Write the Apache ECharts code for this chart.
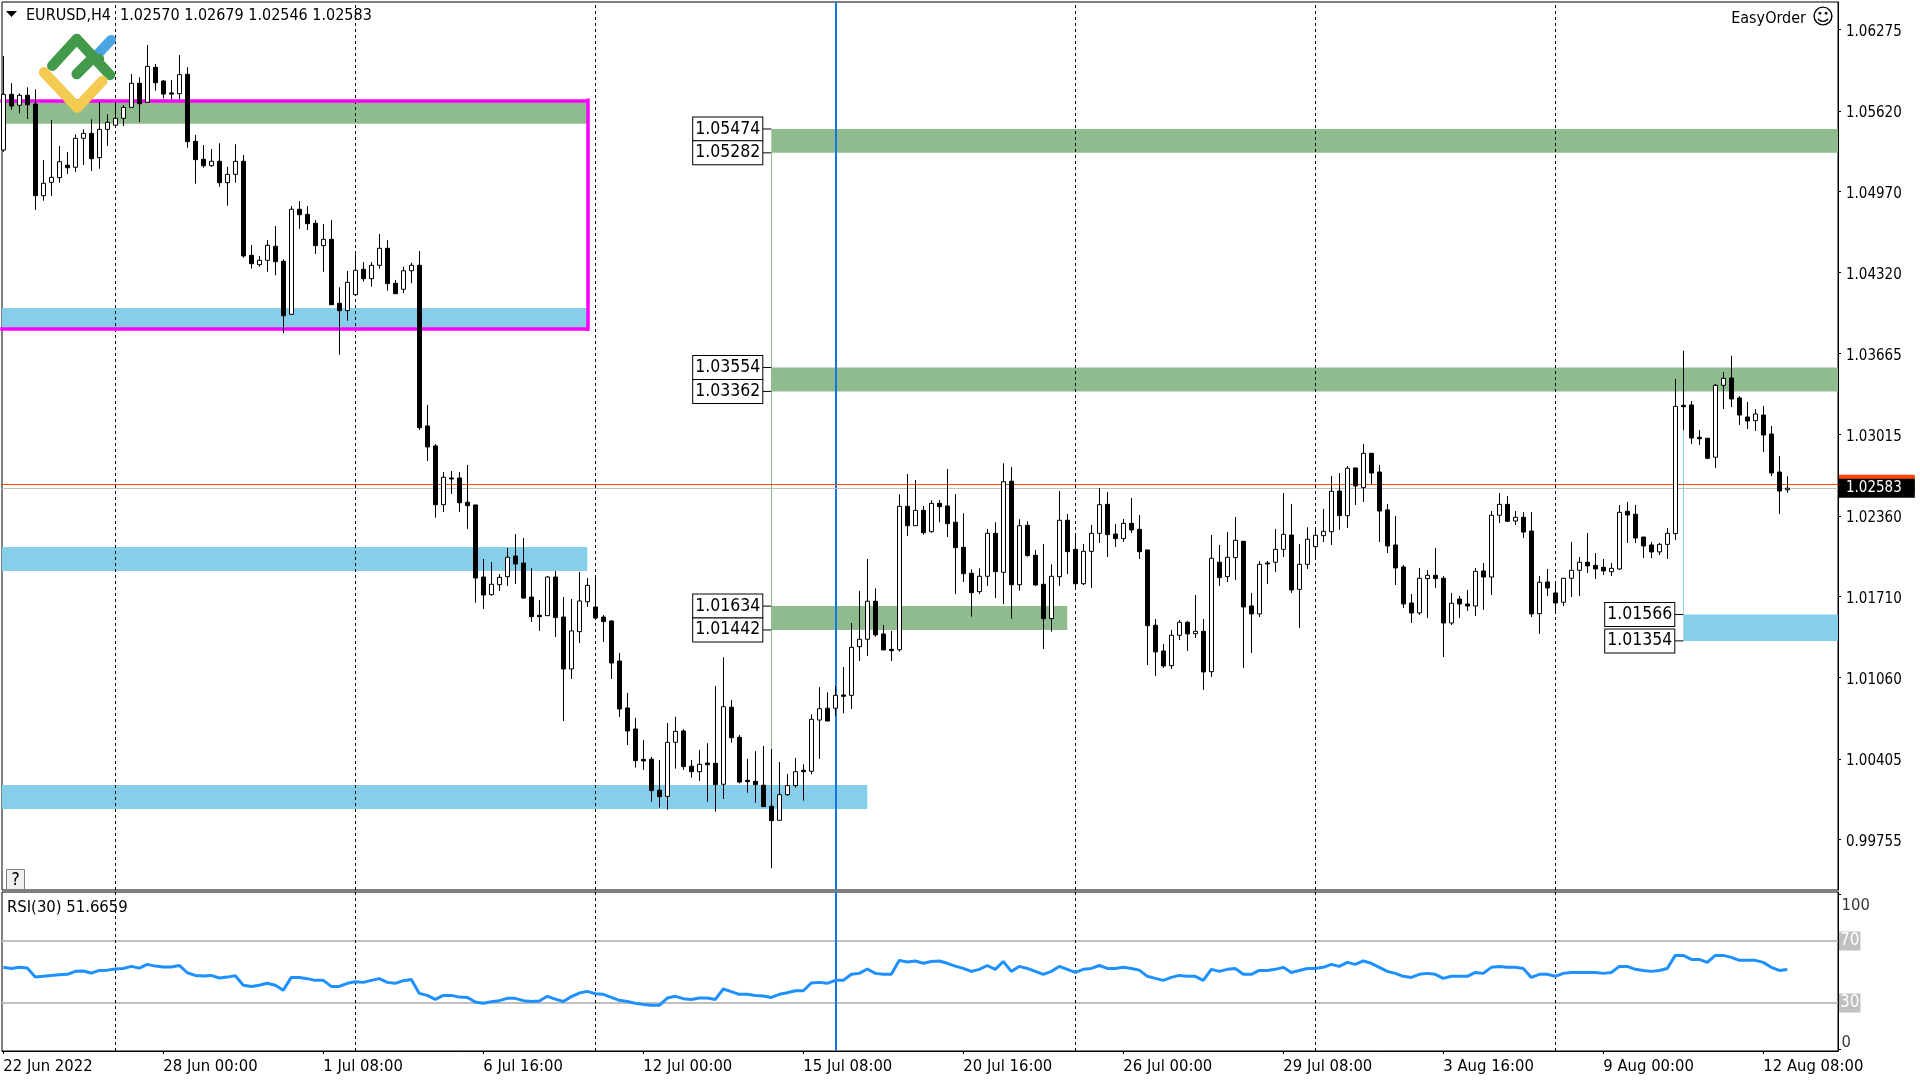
<!DOCTYPE html>
<html><head><meta charset="utf-8">
<style>html,body{margin:0;padding:0;background:#fff}#c{width:1920px;height:1080px}</style>
<script src="https://cdn.jsdelivr.net/npm/echarts@6/dist/echarts.min.js"></script>
</head><body><div id="c"></div>
<script>
// prices in points (1e-5)
const opens=[105305,105753,105665,105745,105675,104937,105045,105082,105182,105166,
105399,105439,105243,105471,105504,105560,105648,105842,105689,105970,
105860,105764,105758,105914,105375,105230,105178,105214,105042,105109,
105214,104457,104382,104417,104530,104409,103982,104828,104787,104715,
104535,104586,104071,104012,104140,104345,104269,104377,104514,104232,
104184,104333,104377,103084,102923,102450,102665,102665,102470,102448,
101868,101726,101806,101871,102037,101981,101707,101560,101557,101868,
101546,101128,101428,101669,101627,101546,101514,101192,100814,100645,
100400,100401,100152,100103,100538,100629,100345,100301,100371,100369,
100200,100820,100578,100232,100224,100192,100023,99910,100116,100189,
100313,100305,100717,100812,100812,100919,100916,101307,101367,101673,
101410,101286,101283,102437,102281,102405,102233,102461,102440,102309,
102107,101898,101750,101874,102220,101906,102639,101806,102284,102043,
101810,101533,101871,102325,102091,101814,102075,102220,102453,102214,
102177,102300,102252,102086,101480,101273,101154,101399,101504,101412,
101431,101106,101987,101871,102024,102156,101635,101571,101981,101987,
102091,102206,101769,101970,102112,102201,102233,102560,102362,102746,
102587,102864,102713,102408,102126,101949,101659,101579,101855,101882,
101858,101498,101691,101651,101635,101917,101868,102365,102453,102319,
102349,102238,101573,101828,101740,101665,101858,101922,101987,101962,
101946,101911,101933,102397,102373,102190,102126,102070,102131,102217,
103250,103253,102993,102985,102832,103411,103470,103309,103156,103126,
103172,103019,102713,102570];
const closes=[105753,105659,105745,105669,104937,105037,105085,105211,105162,105399,
105439,105235,105471,105528,105560,105648,105842,105677,105978,105846,
105755,105755,105911,105372,105227,105178,105214,105042,105109,105214,
104452,104390,104417,104538,104406,103971,104828,104784,104712,104535,
104586,104060,104012,104240,104337,104269,104377,104514,104229,104148,
104333,104377,103070,102915,102450,102671,102657,102466,102442,101860,
101723,101810,101866,102027,101973,101699,101549,101549,101868,101541,
101128,101434,101675,101801,101538,101509,101176,100806,100629,100390,
100388,100149,100100,100538,100626,100342,100301,100361,100358,100197,
100824,100575,100218,100221,100197,100020,99907,100116,100189,100301,
100301,100723,100808,100709,100916,100908,101302,101367,101673,101402,
101281,101275,102437,102281,102405,102225,102461,102434,102297,102104,
101895,101742,101874,102220,101911,102635,101806,102281,102040,101804,
101533,101874,102325,102072,101814,102075,102220,102450,102209,102177,
102300,102247,102072,101476,101265,101152,101399,101504,101410,101431,
101104,102019,101863,102027,102164,101627,101571,101970,101973,102091,
102212,101764,101970,102172,102204,102236,102558,102362,102743,102601,
102864,102705,102399,102118,101941,101651,101579,101858,101882,101855,
101498,101657,101651,101635,101914,101868,102365,102453,102317,102349,
102230,101571,101826,101780,101659,101858,101922,101987,101957,101933,
101917,101938,102389,102367,102182,102118,102070,102131,102220,103242,
103239,102987,102981,102824,103411,103467,103301,103172,103124,103180,
103011,102705,102560,102583];
const highs=[106061,105842,105761,105809,105793,105224,105546,105337,105289,105431,
105471,105552,105691,105592,105691,105667,105916,105890,106150,105997,
105868,105868,106069,105970,105426,105345,105313,105359,105170,105351,
105265,104540,104452,104580,104693,104425,104854,104894,104854,104741,
104709,104741,104200,104331,104465,104403,104403,104629,104580,104259,
104366,104398,104492,103253,102939,102713,102721,102713,102770,102448,
102013,101989,101892,102102,102214,102182,101941,101683,101876,101917,
101707,101691,101909,101860,101860,101562,101522,101257,100935,100734,
100556,100420,100396,100693,100744,100643,100396,100476,100530,100991,
101222,100878,100597,100404,100466,100508,100484,100379,100283,100412,
100361,100763,100981,100940,100991,101144,101498,101756,102013,101777,
101482,101434,102534,102697,102649,102440,102486,102488,102737,102536,
102381,101930,101938,102255,102309,102783,102754,102333,102317,102086,
102134,101970,102560,102375,102198,102134,102287,102585,102552,102295,
102335,102504,102367,102086,101530,101329,101442,101522,101514,101723,
101530,102206,102126,102230,102351,102158,101740,101997,101997,102255,
102544,102456,102134,102268,102247,102416,102681,102705,102762,102746,
102939,102866,102770,102456,102359,101965,101731,101941,101925,102102,
101876,101740,101715,101764,101941,101981,102399,102544,102520,102399,
102391,102391,101876,101933,101812,101860,102150,102029,102222,102061,
102013,101981,102448,102472,102448,102190,102150,102142,102263,103462,
103690,103285,103051,102985,103422,103518,103649,103325,103277,103220,
103245,103084,102842,102679];
const lows=[105290,105627,105600,105554,104822,104897,104935,105042,105112,105128,
105184,105136,105154,105337,105498,105498,105648,105530,105685,105782,
105721,105713,105713,105323,105034,105162,105170,105009,104857,105042,
104438,104350,104366,104325,104296,103830,103982,104671,104661,104468,
104325,104055,103657,103931,104140,104245,104205,104350,104172,104148,
104152,104232,103051,102802,102346,102391,102536,102391,102255,101661,
101611,101718,101756,101796,101812,101691,101506,101434,101554,101385,
100709,101047,101337,101627,101530,101345,101047,100742,100516,100334,
100315,100060,100012,99996,100326,100315,100253,100227,100060,99979,
100082,100535,100208,100132,100052,100020,99524,99910,100106,100173,
100068,100280,100404,100709,100750,100771,100806,101192,101233,101388,
101281,101192,101267,102198,102281,102209,102225,102309,102190,101731,
101828,101549,101731,101796,101699,101651,101533,101758,102032,101796,
101289,101428,101796,101892,101788,101804,101780,102142,102029,102110,
102150,102222,102013,101160,101072,101136,101128,101361,101273,101377,
100959,101064,101796,101828,101844,101136,101257,101546,101812,101909,
102029,101740,101458,101933,102027,102150,102126,102247,102263,102448,
102472,102617,102150,102061,101804,101619,101498,101562,101538,101780,
101224,101482,101538,101595,101554,101603,101723,102303,102311,102287,
102182,101546,101410,101715,101587,101635,101707,101715,101900,101852,
101884,101876,101925,102142,102142,102021,102021,102045,102013,102166,
103051,102939,102931,102816,102746,103220,103236,103092,103059,103043,
102874,102681,102375,102546];
const rsiValues=[53.0,52.3,53.0,52.5,46.8,47.2,47.8,48.2,48.5,50.4,50.6,49.3,51.0,51.2,51.9,52.3,53.6,52.5,54.9,53.8,
53.2,53.2,54.2,49.5,47.8,47.4,47.8,46.1,46.7,47.6,41.4,40.7,41.4,42.7,41.4,38.2,46.5,46.5,45.7,44.6,
44.6,40.7,40.7,42.7,43.7,43.3,44.6,45.7,43.3,42.7,44.4,45.2,36.2,34.9,32.3,34.9,34.9,33.8,33.6,30.6,
29.8,30.8,31.5,33.0,33.0,31.5,31.0,31.3,34.3,32.5,31.0,34.1,36.4,37.5,36.0,35.6,33.6,31.7,31.0,29.8,
29.1,28.5,28.5,33.2,34.3,32.8,32.3,33.2,33.2,32.3,39.0,37.3,35.6,35.6,34.9,34.5,33.6,35.6,36.6,37.9,
37.9,42.9,43.3,42.7,44.6,44.6,48.5,49.1,51.9,49.1,48.5,48.5,57.5,56.4,57.1,55.6,56.8,57.1,55.6,53.8,
52.3,50.4,51.7,54.2,51.7,56.8,50.4,53.6,52.3,50.4,48.5,50.4,53.6,51.7,49.7,51.7,52.3,54.2,52.3,52.3,
53.0,52.3,51.2,47.2,45.9,44.6,46.5,47.8,47.2,47.2,44.6,51.7,50.4,51.7,52.3,48.5,48.5,51.0,51.0,51.7,
53.0,49.7,51.0,52.3,52.3,53.0,54.9,53.6,56.2,54.9,57.1,55.6,53.0,50.4,49.1,47.2,46.5,48.5,49.1,48.5,
45.9,47.2,47.2,47.2,49.7,49.1,53.0,53.6,53.0,53.0,52.3,46.5,48.5,48.5,47.2,49.1,49.7,49.7,49.7,49.7,
49.1,49.7,53.6,53.6,51.7,51.0,50.4,51.0,52.3,60.7,60.7,58.1,58.1,56.2,60.7,60.7,59.4,57.5,57.5,57.5,
56.2,53.0,51.0,51.67];
const priceTicks=[1.06275,1.05620,1.04970,1.04320,1.03665,1.03015,1.02360,1.01710,1.01060,1.00405,0.99755];
const dateLabels=['22 Jun 2022','28 Jun 00:00','1 Jul 08:00','6 Jul 16:00','12 Jul 00:00','15 Jul 08:00','20 Jul 16:00','26 Jul 00:00','29 Jul 08:00','3 Aug 16:00','9 Aug 00:00','12 Aug 08:00'];
const dateBars=[0,20,40,60,80,100,120,140,160,180,200,220];
const separatorBars=[14,44,74,134,164,194];
const markerBar=104;
const greenBands=[[-1,73,1.05710,1.05516],[96,240,1.05474,1.05282],[96,240,1.03554,1.03362],[96,133,1.01634,1.01442]];
const blueBands=[[-1,73,1.04033,1.03856],[-1,73,1.02110,1.01917],[-1,108,1.00194,1.00001],[210,240,1.01566,1.01354]];
const boxBand=[-0.1625,73,1.05705,1.03864];
const priceTags=[[96,1.05474],[96,1.05282],[96,1.03554],[96,1.03362],[96,1.01634],[96,1.01442],[210,1.01566],[210,1.01354]];
const bid=1.02583, ask=1.02614;
const rsiLevels=[70,30];
const rsiAxisTicks=[100,0];

const FONT='"DejaVu Sans Condensed","Liberation Sans",sans-serif', FS=15;
const xMin=-0.1625,xMax=229.34,yMin=0.99349,yMax=1.06496;
const candles=opens.map((o,i)=>[i,o/1e5,closes[i]/1e5,lows[i]/1e5,highs[i]/1e5]);
const bandItem=(b,style)=>[{xAxis:b[0],yAxis:b[2],itemStyle:style},{xAxis:b[1],yAxis:b[3]}];
const dashed={type:[3,3],color:'#000',width:1};
const magenta={color:'#FF00FF',width:3.5,type:'solid',cap:'square'};
const chart=echarts.init(document.getElementById('c'),null,{renderer:'canvas'});
chart.setOption({
 animation:false,backgroundColor:'#fff',
 grid:[{left:2,top:2,width:1836,height:888,show:true,borderColor:'#000',borderWidth:1,containLabel:false},
       {left:2,top:892,width:1836,height:159,show:true,borderColor:'#000',borderWidth:1,containLabel:false}],
 xAxis:[{type:'value',gridIndex:0,min:xMin,max:xMax,axisLabel:{show:false},axisTick:{show:false},axisLine:{show:false,onZero:false},splitLine:{show:false}},
  {type:'value',gridIndex:1,min:xMin,max:xMax,splitLine:{show:false},axisLine:{show:true,onZero:false,lineStyle:{color:'#000'}},
   axisTick:{show:true,length:3,customValues:dateBars,lineStyle:{color:'#000'}},
   axisLabel:{customValues:dateBars,align:'left',margin:7,color:'#000',fontFamily:FONT,fontSize:16.5,
     formatter:v=>dateLabels[dateBars.indexOf(v)]}}],
 yAxis:[{type:'value',gridIndex:0,position:'right',min:yMin,max:yMax,splitLine:{show:false},axisLine:{show:true,onZero:false,lineStyle:{color:'#000'}},
   axisTick:{show:true,length:3,customValues:priceTicks,lineStyle:{color:'#000'}},
   axisLabel:{customValues:priceTicks,margin:8,color:'#000',fontFamily:FONT,fontSize:FS,
     rich:{p:{fontFamily:FONT,fontSize:FS,color:'#000',padding:[5,0,0,0]}},formatter:v=>'{p|'+v.toFixed(5)+'}'}},
  {type:'value',gridIndex:1,position:'right',min:-0.97,max:101.6,splitLine:{show:false},axisLine:{show:true,onZero:false,lineStyle:{color:'#000'}},
   axisTick:{show:true,length:3,customValues:rsiAxisTicks,lineStyle:{color:'#000'}},axisLabel:{show:false}}],
 series:[
  {name:'zones',type:'line',xAxisIndex:0,yAxisIndex:0,data:[],z:1,silent:true,
   markArea:{silent:true,z:1,data:[...greenBands.map(b=>bandItem(b,{color:'#8FBC8F'})),...blueBands.map(b=>bandItem(b,{color:'#87CEEB'}))]},
   markLine:{silent:true,z:2,symbol:'none',precision:6,label:{show:false},data:[
     ...separatorBars.map(b=>({xAxis:b,lineStyle:dashed})),
     {xAxis:markerBar,lineStyle:{color:'#1473E6',width:2,type:'solid'}},
     [{coord:[96,1.05282],lineStyle:{color:'#8FBC8F',width:1,type:'solid'}},{coord:[96,1.00484]}],
     [{coord:[210,1.01566],lineStyle:{color:'#87CEEB',width:1,type:'solid'}},{coord:[210,1.03239]}],
     {yAxis:ask,lineStyle:{color:'#FF4500',width:1,type:'solid'},label:{show:true,position:'end',distance:1,formatter:'1.02614',color:'#FF4500',backgroundColor:'#FF4500',fontFamily:FONT,fontSize:FS,padding:[3,13,1,7]}},
     {yAxis:bid,lineStyle:{color:'#C0C0C0',width:1,type:'solid'},label:{show:true,position:'end',distance:1,formatter:bid.toFixed(5),color:'#fff',backgroundColor:'#000',fontFamily:FONT,fontSize:FS,padding:[3,13,1,7]}}
   ]}},
  {name:'EURUSD',type:'candlestick',xAxisIndex:0,yAxisIndex:0,z:5,barWidth:5,silent:true,
   encode:{x:0,y:[1,2,3,4]},data:candles,
   itemStyle:{color:'#fff',color0:'#000',borderColor:'#000',borderColor0:'#000',borderWidth:1}},
  {name:'box',type:'line',xAxisIndex:0,yAxisIndex:0,data:[],z:4,silent:true,
   markLine:{silent:true,z:4,symbol:'none',precision:6,label:{show:false},data:[
     [{coord:[boxBand[0],boxBand[2]],lineStyle:magenta},{coord:[boxBand[1],boxBand[2]]}],
     [{coord:[boxBand[0],boxBand[3]],lineStyle:magenta},{coord:[boxBand[1],boxBand[3]]}],
     [{coord:[boxBand[1],boxBand[2]],lineStyle:magenta},{coord:[boxBand[1],boxBand[3]]}]
   ]}},
  {name:'tags',type:'scatter',xAxisIndex:0,yAxisIndex:0,z:7,silent:true,data:priceTags,
   symbol:'rect',symbolSize:[9,1],symbolOffset:[-4.5,0],itemStyle:{color:'#000',opacity:1},
   label:{show:true,position:'left',distance:0,formatter:p=>p.value[1].toFixed(5),color:'#000',fontFamily:FONT,fontSize:17.5,
     backgroundColor:'#fff',borderColor:'#000',borderWidth:1,padding:[5,2,0,2]}},
  {name:'RSI(30)',type:'line',xAxisIndex:1,yAxisIndex:1,z:5,silent:true,showSymbol:false,
   data:rsiValues.map((v,i)=>[i,v]),lineStyle:{color:'#1E90FF',width:3},
   markLine:{silent:true,z:2,symbol:'none',precision:6,data:[
     ...rsiLevels.map(l=>({yAxis:l,lineStyle:{color:'#C0C0C0',width:2,type:'solid'},label:{show:true,position:'end',distance:1,formatter:String(l),color:'#fff',backgroundColor:'#C0C0C0',fontFamily:FONT,fontSize:17,padding:[2,1,0,1]}})),
     ...separatorBars.map(b=>({xAxis:b,lineStyle:dashed,label:{show:false}})),
     {xAxis:markerBar,lineStyle:{color:'#1473E6',width:2,type:'solid'},label:{show:false}}
   ]}},
  {name:'rsiAxisLabels',type:'scatter',xAxisIndex:1,yAxisIndex:1,silent:true,symbol:'circle',symbolSize:1,itemStyle:{color:'rgba(0,0,0,0)'},
   data:[{value:[xMax,rsiAxisTicks[0]],label:{offset:[0,11]}},{value:[xMax,rsiAxisTicks[1]],label:{offset:[0,-7]}}],
   label:{show:true,position:'right',distance:3,formatter:p=>String(p.value[1]),color:'#000',fontFamily:FONT,fontSize:16.5}}
 ],
 graphic:[
  {type:'polygon',z:100,shape:{points:[[6,11],[17,11],[11.5,17]]},style:{fill:'#000'}},
  {type:'text',z:100,x:26,y:16,style:{text:'EURUSD,H4  1.02570 1.02679 1.02546 1.02583',fill:'#000',font:`16px ${FONT}`,verticalAlign:'middle'}},
  {type:'text',z:100,x:7,y:908,style:{text:'RSI(30) 51.6659',fill:'#000',font:`16.5px ${FONT}`,verticalAlign:'middle'}},
  {type:'text',z:100,x:1806,y:18.5,style:{text:'EasyOrder',align:'right',fill:'#000',font:`16px ${FONT}`,verticalAlign:'middle'}},
  {type:'text',z:100,x:1823,y:18,style:{text:'\u263A',align:'center',fill:'#000',font:'22px "DejaVu Sans"',verticalAlign:'middle'}},
  {type:'rect',z:100,shape:{x:6.5,y:869.5,width:18,height:20},style:{fill:'#F0F0F0',stroke:'#808080',lineWidth:1}},
  {type:'text',z:101,x:15.5,y:880,style:{text:'?',align:'center',fill:'#000',font:`18px ${FONT}`,verticalAlign:'middle'}},
  {type:'polyline',z:90,shape:{points:[[95,57],[111,40]]},style:{stroke:'#4AA3E2',lineWidth:10,lineCap:'round',fill:null}},
  {type:'polyline',z:91,shape:{points:[[52.3,65.7],[76.7,39],[110,75]]},style:{stroke:'#429A4A',lineWidth:10.5,lineCap:'round',lineJoin:'round',fill:null}},
  {type:'polyline',z:91,shape:{points:[[76.7,74],[91.7,59],[99,59]]},style:{stroke:'#429A4A',lineWidth:10.5,lineCap:'round',lineJoin:'round',fill:null}},
  {type:'polyline',z:91,shape:{points:[[44,72.3],[77.3,107.7],[102.3,81]]},style:{stroke:'#F2CB50',lineWidth:10.5,lineCap:'round',lineJoin:'round',fill:null}}
 ]
});
</script></body></html>
